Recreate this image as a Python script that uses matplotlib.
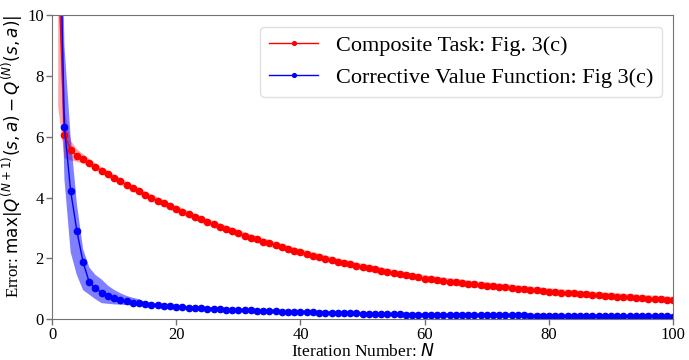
import numpy as np
import matplotlib
matplotlib.use("Agg")
import matplotlib.pyplot as plt

plt.rcParams['font.family'] = 'serif'
plt.rcParams['font.serif'] = ['Liberation Serif', 'DejaVu Serif']
plt.rcParams['mathtext.fontset'] = 'dejavusans'

#%% data

iters = np.arange(1, 101)

composite_mean = [
    11.7, 6.07, 5.58, 5.38, 5.27, 5.14, 5.01, 4.89, 4.77, 4.65,
    4.54, 4.42, 4.31, 4.21, 4.10, 4.00, 3.90, 3.81, 3.71, 3.62,
    3.53, 3.45, 3.36, 3.28, 3.20, 3.12, 3.04, 2.97, 2.89, 2.82,
    2.75, 2.68, 2.62, 2.55, 2.49, 2.43, 2.37, 2.31, 2.25, 2.20,
    2.14, 2.09, 2.04, 1.99, 1.94, 1.89, 1.84, 1.80, 1.75, 1.71,
    1.67, 1.63, 1.59, 1.55, 1.51, 1.47, 1.44, 1.40, 1.37, 1.33,
    1.31, 1.28, 1.26, 1.23, 1.21, 1.19, 1.16, 1.14, 1.12, 1.10,
    1.08, 1.06, 1.04, 1.02, 1.00, 0.98, 0.96, 0.94, 0.92, 0.90,
    0.88, 0.87, 0.85, 0.84, 0.82, 0.81, 0.79, 0.78, 0.76, 0.75,
    0.74, 0.72, 0.71, 0.70, 0.68, 0.67, 0.66, 0.65, 0.63, 0.62]

# band edges for the first iterations, afterwards a thin constant band
composite_lo_early = [7.0, 5.30, 5.22, 5.18, 5.12, 5.02]
composite_hi_early = [16.4, 6.90, 5.88, 5.60, 5.42, 5.28]
composite_band = 0.11

corrective_mean = [
    15.5, 6.31, 4.22, 2.90, 1.87, 1.21, 1.01, 0.87, 0.76, 0.68,
    0.62, 0.58, 0.54, 0.51, 0.49, 0.47, 0.45, 0.43, 0.42, 0.40,
    0.39, 0.37, 0.36, 0.35, 0.34, 0.33, 0.32, 0.31, 0.30, 0.29,
    0.285, 0.28, 0.27, 0.265, 0.26, 0.25, 0.245, 0.24, 0.23, 0.225,
    0.22, 0.215, 0.21, 0.205, 0.20, 0.195, 0.19, 0.185, 0.18, 0.175,
    0.17, 0.166, 0.162, 0.158, 0.154, 0.15, 0.146, 0.142, 0.138, 0.135,
    0.134, 0.133, 0.131, 0.130, 0.129, 0.127, 0.126, 0.125, 0.123, 0.122,
    0.121, 0.120, 0.118, 0.117, 0.116, 0.115, 0.114, 0.113, 0.111, 0.110,
    0.109, 0.107, 0.106, 0.104, 0.103, 0.101, 0.100, 0.098, 0.097, 0.095,
    0.094, 0.092, 0.091, 0.089, 0.088, 0.086, 0.085, 0.083, 0.082, 0.080]

corrective_lo_early = [12.0, 4.6, 2.2, 1.45, 0.95, 0.80, 0.65, 0.52, 0.50, 0.48, 0.47, 0.46, 0.45, 0.43]
corrective_hi_early = [19.0, 9.0, 6.0, 3.8, 2.3, 1.70, 1.45, 1.30, 1.10, 0.96, 0.85, 0.76, 0.70, 0.65]
corrective_band = 0.06

labels = ["Composite Task: Fig. 3(c)", "Corrective Value Function: Fig 3(c)"]


def band(mean, lo_early, hi_early, width):
    mean = np.asarray(mean)
    lo = mean - width
    hi = mean + width
    lo[:len(lo_early)] = lo_early
    hi[:len(hi_early)] = hi_early
    return lo, hi


#%% plot

fig, ax = plt.subplots(figsize=(6.89, 3.6), dpi=100)

red_lo, red_hi = band(composite_mean, composite_lo_early, composite_hi_early, composite_band)
blue_lo, blue_hi = band(corrective_mean, corrective_lo_early, corrective_hi_early, corrective_band)

ax.fill_between(iters, red_lo, red_hi, color='red', alpha=0.35, lw=0)
ax.fill_between(iters, blue_lo, blue_hi, color='blue', alpha=0.5, lw=0)

ax.plot(iters, composite_mean, color='red', marker='o', markersize=4.5, lw=1, label=labels[0])
ax.plot(iters, corrective_mean, color='blue', marker='o', markersize=4.5, lw=1, label=labels[1])

ax.set_xlim(0, 100)
ax.set_ylim(0, 10)
ax.set_xticks(np.arange(0, 101, 20))
ax.set_yticks(np.arange(0, 11, 2))

ax.set_xlabel(r"Iteration Number: $N$", fontsize=12.5, labelpad=0)
ax.set_ylabel(r"Error: $\max|Q^{(N+1)}(s,a) - Q^{(N)}(s,a)|$", fontsize=12.2)
ax.yaxis.set_label_coords(-0.043, 0.535)

for s in ax.spines.values():
    s.set_color('0.45')
ax.tick_params(colors='0.45', labelcolor='black', labelsize=12, length=4, width=1, pad=2)

leg = ax.legend(fontsize=16, loc='upper right', markerscale=0.6, handlelength=2.2)
leg.get_frame().set_edgecolor('0.85')

fig.subplots_adjust(left=0.0755, right=0.977, top=0.957, bottom=0.114)

fig.savefig('out.png', dpi=100)
